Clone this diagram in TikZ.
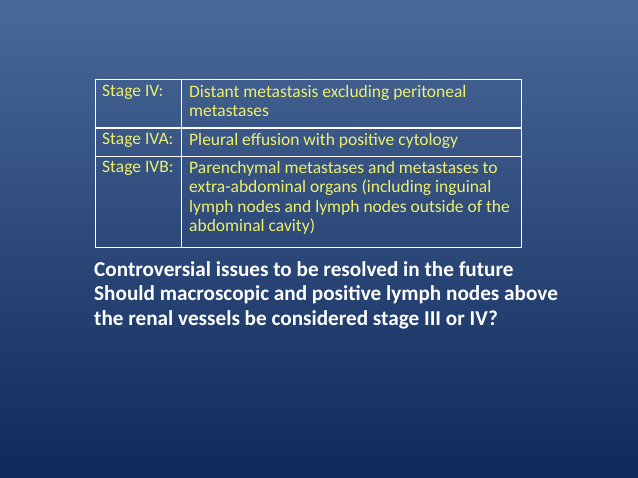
\documentclass[tikz,border=0pt]{standalone}
\usepackage{fontspec}
\setmainfont{Carlito}
\definecolor{bgtop}{HTML}{4A6898}
\definecolor{bgbot}{HTML}{0E2A5C}
\definecolor{celltext}{HTML}{EEF06A}
\begin{document}
\begin{tikzpicture}[x=1pt,y=-1pt,
    cell/.style={anchor=north west, inner sep=0pt, align=left, text=celltext,
      font=\fontsize{17.5}{19.5}\selectfont},
    rule/.style={draw=white, line width=0.8pt},
    note/.style={anchor=north west, inner sep=0pt, align=left, text=white,
      font=\bfseries\fontsize{21.2}{24.5}\selectfont}
  ]
  \shade[top color=bgtop, bottom color=bgbot] (0,0) rectangle (638,478);
  \useasboundingbox (0,0) rectangle (638,478);
  % table frame
  \draw[rule] (95,79) rectangle (521,247);
  \draw[rule] (181,79) -- (181,247);
  \draw[rule, line width=1.6pt] (95,128) -- (521,128);
  \draw[rule] (95,156) -- (521,156);
  % cells
  \node[cell] (s4) at (102,85) {Stage IV:};
  \node[cell] (t4) at (189,85) {Distant metastasis excluding peritoneal\\metastases};
  \node[cell] (s4a) at (102,133) {Stage IVA:};
  \node[cell] (t4a) at (189,133) {Pleural effusion with positive cytology};
  \node[cell] (s4b) at (102,161) {Stage IVB:};
  \node[cell] (t4b) at (189,161) {Parenchymal metastases and metastases to\\extra-abdominal organs (including inguinal\\lymph nodes and lymph nodes outside of the\\abdominal cavity)};
  % text below
  \node[note] (issues) at (94,261) {Controversial issues to be resolved in the future\\Should macroscopic and positive lymph nodes above\\the renal vessels be considered stage III or IV?};
\end{tikzpicture}
\end{document}
